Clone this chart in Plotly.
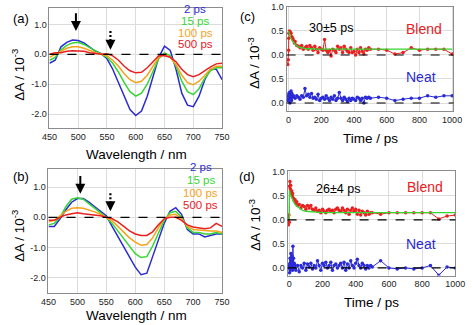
import plotly.graph_objects as go

# ---------------- data ----------------
wl = [450, 460, 470, 480, 490, 500, 510, 520, 530, 540, 550, 560, 570, 580, 590, 600,
      610, 620, 630, 640, 650, 660, 670, 680, 690, 700, 710, 720, 730, 740, 750]

a_2ps = [-0.3, -0.2, 0.25, 0.4, 0.48, 0.46, 0.38, 0.25, 0.1, 0.02, -0.15, -0.5, -0.95, -1.45, -1.85, -2.05,
         -1.9, -1.4, -0.75, -0.1, 0.27, 0.13, -0.5, -1.3, -1.7, -1.75, -1.4, -0.85, -0.5, -0.5, -0.85]
a_15ps = [-0.2, -0.1, 0.15, 0.3, 0.38, 0.4, 0.33, 0.22, 0.1, 0.0, -0.1, -0.3, -0.6, -0.95, -1.25, -1.4,
          -1.3, -1.0, -0.55, -0.15, 0.05, -0.05, -0.4, -0.9, -1.25, -1.35, -1.15, -0.8, -0.55, -0.45, -0.45]
a_100ps = [-0.1, 0.0, 0.1, 0.2, 0.25, 0.25, 0.2, 0.12, 0.05, 0.0, -0.05, -0.2, -0.4, -0.65, -0.85, -0.95,
           -0.9, -0.7, -0.4, -0.1, 0.0, -0.1, -0.35, -0.7, -0.95, -1.02, -0.9, -0.7, -0.5, -0.4, -0.4]
a_500ps = [0.0, 0.05, 0.05, 0.1, 0.12, 0.12, 0.1, 0.05, 0.02, 0.0, 0.02, -0.05, -0.2, -0.4, -0.55, -0.62,
           -0.6, -0.45, -0.25, -0.05, -0.05, -0.1, -0.25, -0.5, -0.68, -0.75, -0.68, -0.55, -0.42, -0.32, -0.3]

b_2ps = [-0.3, -0.3, -0.05, 0.25, 0.5, 0.62, 0.62, 0.5, 0.35, 0.2, 0.05, -0.3, -0.65, -0.95, -1.3, -1.65,
         -1.9, -1.85, -1.3, -0.75, -0.2, 0.2, 0.32, 0.1, -0.4, -0.55, -0.55, -0.65, -0.6, -0.55, -0.55]
b_15ps = [-0.25, -0.2, 0.0, 0.35, 0.6, 0.65, 0.6, 0.45, 0.3, 0.15, 0.0, -0.2, -0.45, -0.7, -0.95, -1.2,
          -1.33, -1.3, -0.95, -0.5, -0.1, 0.15, 0.2, 0.0, -0.35, -0.5, -0.5, -0.55, -0.55, -0.5, -0.55]
b_100ps = [-0.15, -0.1, 0.05, 0.2, 0.3, 0.32, 0.3, 0.25, 0.18, 0.1, 0.0, -0.12, -0.3, -0.5, -0.68, -0.82,
           -0.92, -0.9, -0.68, -0.35, -0.05, 0.08, 0.1, -0.05, -0.3, -0.4, -0.42, -0.45, -0.45, -0.45, -0.5]
b_500ps = [-0.1, -0.1, 0.0, 0.08, 0.12, 0.15, 0.12, 0.1, 0.08, 0.05, 0.0, -0.05, -0.15, -0.3, -0.45, -0.55,
           -0.6, -0.6, -0.48, -0.25, -0.05, 0.0, 0.0, -0.1, -0.25, -0.32, -0.35, -0.38, -0.35, -0.2, -0.3]

delay_labels = ["2 ps", "15 ps", "100 ps", "500 ps"]

# kinetics (c)
c_blend_t = [-5, -2, 0, 1, 2, 5, 10, 15, 20, 25, 30, 35, 40, 50, 60, 70, 80, 90, 100, 110, 120, 130, 140,
             150, 160, 170, 180, 190, 200, 210, 220, 230, 240, 250, 260, 270, 280, 290, 300, 310, 320, 330,
             340, 350, 360, 370, 380, 390, 400, 410, 420, 430, 440, 450, 460, 470, 480, 490, 500, 550, 600,
             650, 700, 750, 800, 850, 900, 950, 1000]
c_blend_v = [-0.2, -0.1, 0.1, 0.35, 0.45, 0.5, 0.48, 0.45, 0.38, 0.35, 0.3, 0.25, 0.28, 0.2, 0.18, 0.15,
             0.2, 0.12, 0.15, 0.18, 0.12, 0.2, 0.15, 0.1, 0.18, 0.12, 0.05, 0.15, 0.12, 0.1, 0.32, 0.1,
             0.05, 0.1, -0.02, 0.12, 0.1, 0.05, 0.18, 0.12, 0.15, 0.05, 0.18, 0.12, 0.08, 0.05, 0.15, 0.05,
             0.08, 0.0, 0.12, 0.05, 0.15, 0.08, 0.02, 0.12, 0.1, 0.15, 0.12, 0.12, 0.1, 0.02, 0.05, 0.15,
             0.1, 0.12, 0.12, 0.12, 0.02]
c_fit_t = [0, 5, 10, 20, 30, 40, 60, 80, 100, 150, 200, 300, 1000]
c_fit_v = [0.5, 0.43, 0.38, 0.31, 0.26, 0.22, 0.17, 0.145, 0.135, 0.125, 0.12, 0.12, 0.12]
c_neat_t = [-5, -2, 0, 2, 4, 6, 8, 10, 12, 15, 18, 20, 25, 30, 40, 50, 60, 70, 80, 90, 100, 110, 120, 130,
            140, 150, 160, 170, 180, 190, 200, 210, 220, 230, 240, 250, 260, 270, 280, 290, 300, 310, 320,
            330, 340, 350, 360, 370, 380, 390, 400, 410, 420, 430, 440, 450, 460, 470, 480, 490, 500, 550,
            600, 650, 700, 750, 800, 850, 900, 950, 1000]
c_neat_v = [0.05, 0.15, 0.1, 0.2, 0.05, 0.22, 0.0, 0.18, 0.08, 0.25, 0.05, 0.2, 0.12, 0.15, 0.1, 0.15, 0.12,
            0.08, 0.15, 0.12, 0.3, 0.15, 0.18, 0.12, 0.2, 0.1, 0.12, 0.08, 0.18, 0.05, 0.1, 0.12, 0.08,
            0.15, 0.1, 0.05, 0.12, 0.08, 0.15, 0.05, 0.1, 0.22, 0.1, 0.05, 0.12, 0.08, 0.03, 0.1, 0.05,
            0.1, 0.08, 0.05, 0.12, 0.1, 0.05, 0.1, 0.0, 0.12, 0.1, 0.12, 0.1, 0.12, 0.1, 0.05, 0.08, 0.1,
            0.1, 0.15, 0.12, 0.15, 0.15]

# kinetics (d)
d_blend_t = [-5, -2, 0, 2, 4, 6, 8, 10, 12, 15, 18, 20, 25, 30, 35, 40, 45, 50, 60, 70, 80, 90, 100, 110,
             120, 130, 140, 150, 160, 170, 180, 190, 200, 210, 220, 230, 240, 250, 260, 270, 280, 290, 300,
             310, 320, 330, 340, 350, 360, 370, 380, 390, 400, 410, 420, 430, 440, 450, 460, 470, 480, 490,
             500, 550, 600, 650, 700, 750, 800, 850, 900, 950, 1000]
d_blend_v = [-0.1, 0.1, -0.05, 0.7, 0.8, 0.65, 0.72, 0.6, 0.55, 0.6, 0.5, 0.55, 0.45, 0.4, 0.42, 0.35, 0.38,
             0.3, 0.32, 0.25, 0.3, 0.28, 0.22, 0.3, 0.25, 0.3, 0.22, 0.2, 0.25, 0.18, 0.2, 0.15, 0.22, 0.18,
             0.15, 0.2, 0.22, 0.18, 0.2, 0.15, 0.22, 0.25, 0.2, 0.18, 0.25, 0.2, 0.15, 0.22, 0.12, 0.2,
             0.25, 0.18, 0.22, 0.12, 0.2, 0.1, 0.18, 0.15, 0.1, 0.18, 0.12, 0.15, 0.15, 0.12, 0.15, 0.15,
             0.15, 0.15, 0.15, 0.15, 0.02, 0.08, 0.1]
d_fit_t = [0, 1, 5, 10, 20, 30, 40, 60, 80, 100, 150, 200, 300, 1000]
d_fit_v = [0.0, 0.62, 0.56, 0.5, 0.42, 0.35, 0.3, 0.24, 0.2, 0.18, 0.16, 0.15, 0.15, 0.15]
d_neat_t = [-5, 0, 2, 4, 5, 6, 8, 10, 12, 14, 16, 18, 20, 22, 24, 26, 28, 30, 35, 40, 50, 60, 70, 80, 90,
            100, 110, 120, 130, 140, 150, 160, 170, 180, 190, 200, 210, 220, 230, 240, 250, 260, 270, 280,
            290, 300, 310, 320, 330, 340, 350, 360, 370, 380, 390, 400, 410, 420, 430, 440, 450, 460, 470,
            480, 490, 500, 550, 600, 650, 700, 750, 800, 850, 900, 950, 1000]
d_neat_v = [0.0, 0.05, -0.1, 0.1, 0.2, -0.05, 0.15, 0.3, 0.0, 0.2, 0.05, 0.25, -0.05, 0.45, 0.1, 0.2, 0.0,
            0.1, 0.05, -0.05, 0.05, -0.08, 0.05, 0.0, 0.1, -0.05, 0.08, 0.02, 0.1, -0.02, 0.05, 0.0, 0.15,
            0.05, -0.05, 0.1, 0.05, 0.12, 0.0, 0.05, 0.12, -0.05, 0.05, 0.08, 0.0, 0.05, 0.1, 0.0, 0.12,
            -0.05, 0.08, 0.0, 0.15, 0.05, 0.0, 0.1, 0.18, 0.05, 0.0, 0.1, 0.05, -0.02, 0.05, 0.0, 0.05,
            0.02, 0.15, 0.0, -0.02, 0.0, -0.02, 0.0, 0.05, -0.15, 0.02, 0.0]

kin_offset = 1.0  # vertical offset of the Blend trace above the Neat trace
kin_tickvals = [0, 0.5, 1.0, 1.5, 2.0]
kin_ticktext = ["0.0", "0.5", "0.0", "0.5", "1.0"]

# ---------------- style ----------------
W, H = 474, 325
BLUE, GREEN, ORANGE, RED = "#2b2bd6", "#33d633", "#f7a21b", "#e8201e"
spec_colors = [BLUE, GREEN, ORANGE, RED]
FONT = "Liberation Sans, Arial, sans-serif"
GRID = "#dcdcdc"
FRAME = "#8c8c8c"


def px(x):
    return x / W


def py(y):
    return 1 - y / H


fig = go.Figure()

# spectra (a) and (b)
for series, ax in [([a_2ps, a_15ps, a_100ps, a_500ps], ("x", "y")),
                   ([b_2ps, b_15ps, b_100ps, b_500ps], ("x2", "y2"))]:
    for vals, col in zip(series, spec_colors):
        fig.add_trace(go.Scatter(x=wl, y=vals, mode="lines", xaxis=ax[0], yaxis=ax[1],
                                 line=dict(color=col, width=1.5), showlegend=False))

# kinetics (c) and (d)
for (bt, bv, ft, fv, nt, nv), ax in [((c_blend_t, c_blend_v, c_fit_t, c_fit_v, c_neat_t, c_neat_v), ("x3", "y3")),
                                     ((d_blend_t, d_blend_v, d_fit_t, d_fit_v, d_neat_t, d_neat_v), ("x4", "y4"))]:
    fig.add_trace(go.Scatter(x=bt, y=[v + kin_offset for v in bv], mode="lines+markers",
                             xaxis=ax[0], yaxis=ax[1], line=dict(color=RED, width=1),
                             marker=dict(color=RED, size=3.5), showlegend=False))
    fig.add_trace(go.Scatter(x=ft, y=[v + kin_offset for v in fv], mode="lines",
                             xaxis=ax[0], yaxis=ax[1], line=dict(color=GREEN, width=1.3),
                             showlegend=False))
    fig.add_trace(go.Scatter(x=nt, y=nv, mode="lines+markers",
                             xaxis=ax[0], yaxis=ax[1], line=dict(color=BLUE, width=1),
                             marker=dict(color=BLUE, size=3.5), showlegend=False))

tickfont = dict(family=FONT, size=9, color="#222")
axis_common = dict(showline=True, mirror=True, linecolor=FRAME, linewidth=1,
                   showgrid=True, gridcolor=GRID, gridwidth=1, zeroline=False,
                   ticks="", tickfont=tickfont)

fig.update_layout(
    width=W, height=H, margin=dict(l=0, r=0, t=0, b=0),
    paper_bgcolor="white", plot_bgcolor="white",
    font=dict(family=FONT),
    xaxis=dict(domain=[px(43), px(222)], range=[450, 750], tickvals=[450, 500, 550, 600, 650, 700, 750],
               anchor="y", **axis_common),
    yaxis=dict(domain=[py(126), py(4)], range=[-2.48, 1.55], tickvals=[-2, -1, 0, 1],
               ticktext=["-2.0", "-1.0", "0.0", "1.0"], anchor="x", **axis_common),
    xaxis2=dict(domain=[px(42), px(222)], range=[450, 750], tickvals=[450, 500, 550, 600, 650, 700, 750],
                anchor="y2", **axis_common),
    yaxis2=dict(domain=[py(292.5), py(167)], range=[-2.5, 1.6], tickvals=[-2, -1, 0, 1],
                ticktext=["-2.0", "-1.0", "0.0", "1.0"], anchor="x2", **axis_common),
    xaxis3=dict(domain=[px(289), px(462)], range=[-12, 1008], tickvals=[0, 200, 400, 600, 800, 1000],
                anchor="y3", **axis_common),
    yaxis3=dict(domain=[py(108.5), py(3)], range=[-0.17, 2.0], tickvals=kin_tickvals,
                ticktext=kin_ticktext, anchor="x3", **axis_common),
    xaxis4=dict(domain=[px(290), px(464)], range=[-10, 1000], tickvals=[0, 200, 400, 600, 800, 1000],
                anchor="y4", **axis_common),
    yaxis4=dict(domain=[py(275), py(169)], range=[-0.16, 2.02], tickvals=kin_tickvals,
                ticktext=kin_ticktext, anchor="x4", **axis_common),
)

# dashed zero lines
shapes = []
for xr, yr, levels in [("x", "y", [0]), ("x2", "y2", [0]), ("x3", "y3", [0, kin_offset]),
                       ("x4", "y4", [0, kin_offset])]:
    for lv in levels:
        shapes.append(dict(type="line", xref=f"{xr} domain", yref=yr, x0=0, x1=1, y0=lv, y1=lv,
                           line=dict(color="black", width=1.2, dash="dash")))

# dotted arrow shafts
for xr, yr, xx, y0, y1 in [("x", "y", 556, 0.78, 0.3), ("x2", "y2", 557, 0.8, 0.35)]:
    shapes.append(dict(type="line", xref=xr, yref=yr, x0=xx, x1=xx, y0=y0, y1=y1,
                       line=dict(color="black", width=2.2, dash="2px,2px")))
fig.update_layout(shapes=shapes)

ann = []


def text(x, y, s, size, color="black", **kw):
    ann.append(dict(x=px(x), y=py(y), xref="paper", yref="paper", text=s, showarrow=False,
                    font=dict(family=FONT, size=size, color=color), xanchor="center", yanchor="middle", **kw))


# panel labels
text(13, 15, "(a)", 13)
text(13, 175, "(b)", 13)
text(248, 13, "(c)", 13)
text(248, 175, "(d)", 13)

# axis titles
ytitle = "ΔA / 10<sup>-3</sup>"
text(11, 72, ytitle, 13.5, textangle=-90)
text(11, 235, ytitle, 13.5, textangle=-90)
text(255, 60, ytitle, 13.5, textangle=-90)
text(256, 224, ytitle, 13.5, textangle=-90)
text(133, 152, "Wavelength / nm", 13.5)
text(133, 315, "Wavelength / nm", 13.5)
text(376, 136, "Time / ps", 13.5)
text(377, 302, "Time / ps", 13.5)

# delay legends
for lab, col, yy in zip(delay_labels, spec_colors, [5, 17, 29, 41]):
    text(194, yy, lab, 11.5, col)
for lab, col, yy in zip(delay_labels, spec_colors, [165, 178, 191, 204]):
    text(200, yy, lab, 11.5, col)

# kinetics labels
text(335, 24, "30±5 ps", 12.5)
text(431, 25, "Blend", 14, RED)
text(428, 74, "Neat", 14, BLUE)
text(342, 187, "26±4 ps", 12.5)
text(432, 185, "Blend", 14, RED)
text(428, 243, "Neat", 14, BLUE)

# solid arrows
for xr, yr, xx, y0, y1 in [("x", "y", 496, 1.42, 0.78), ("x2", "y2", 505, 1.42, 0.78)]:
    ann.append(dict(x=xx, y=y1, ax=xx, ay=y0, xref=xr, yref=yr, axref=xr, ayref=yr, text="",
                    showarrow=True, arrowhead=2, arrowsize=1, arrowwidth=2, arrowcolor="black"))
# heads of dotted arrows
for xr, yr, xx, y1 in [("x", "y", 556, 0.15), ("x2", "y2", 557, 0.2)]:
    ann.append(dict(x=xx, y=y1, ax=0, ay=-5, xref=xr, yref=yr, text="",
                    showarrow=True, arrowhead=2, arrowsize=1, arrowwidth=2, arrowcolor="black"))

fig.update_layout(annotations=ann)
fig.write_html("out.html")
